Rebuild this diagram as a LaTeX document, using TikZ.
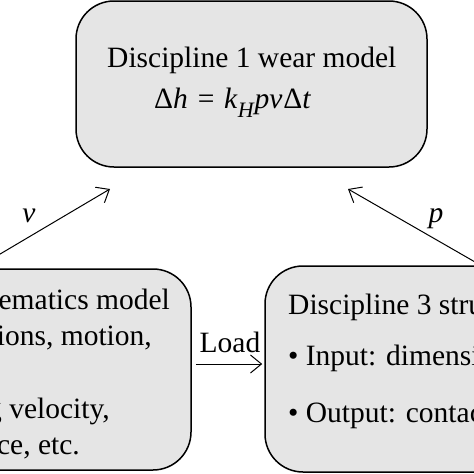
\documentclass[tikz,border=0pt]{standalone}
\usepackage{fontspec}
\setmainfont{Liberation Serif}
\usetikzlibrary{arrows.meta}
\definecolor{boxfill}{RGB}{229,229,229}
\tikzset{
  box/.style={draw=black, line width=1.5pt, fill=boxfill, rounded corners=38pt, inner sep=0pt},
  txt/.style={inner sep=0pt, font=\fontsize{29.5}{34}\selectfont},
  arr/.style={draw=black, line width=1pt, -{Straight Barb[length=11pt,width=18pt,line width=1pt]}},
}
\newcommand{\sub}[1]{\raisebox{-0.32em}{\fontsize{22}{24}\selectfont\itshape #1}}
\begin{document}
\begin{tikzpicture}[x=1pt,y=-1pt]
\path[use as bounding box] (0,0) rectangle (474,474);
\clip (0,0) rectangle (474,474);
% boxes
\node[box, minimum width=351pt, minimum height=166pt] (top) at (251.5,84) {};
\node[box, minimum width=351pt, minimum height=201pt] (left) at (15.5,369.5) {};
\node[box, minimum width=351pt, minimum height=206pt] (right) at (440.5,369) {};
% top text
\node[txt, anchor=base west] (t1) at (107,67) {Discipline 1 wear model};
\node[txt, anchor=base west] (t2) at (154,108) {Δ\textit{h}\,\,=\,\,\textit{k}\sub{H}\hspace{1pt}\textit{pv}\hspace{1pt}Δ\textit{t}};
% left text
\node[txt, anchor=base east] (l1) at (170,309) {Discipline 2 kinematics model};
\node[txt, anchor=base east] (l2) at (152,345) {• Input: positions, motion,};
\node[txt, anchor=base east] (l4) at (110,418) {• Output: sliding velocity,};
\node[txt, anchor=base east] (l5) at (80,454) {distance, etc.};
% right text
\node[txt, anchor=base west] (r1) at (288,314) {Discipline 3 structural model};
\node[txt, anchor=base west] (r2) at (288,365) {• Input: dimensions, load};
\node[txt, anchor=base west] (r3) at (288,422) {• Output: contact pressure};
% arrows
\coordinate (vs) at (-10,260);
\coordinate (ve) at (110,189);
\coordinate (ps) at (482,266);
\coordinate (pe) at (348,189);
\draw[arr] (vs) -- (ve);
\draw[arr] (ps) -- (pe);
\node[txt, anchor=base] (vl) at (29,222) {\textit{v}};
\node[txt, anchor=base] (pl) at (436,222) {\textit{p}};
\draw[arr] ([xshift=4pt]left.east |- 0,364) coordinate (ls) -- ([xshift=-2pt]right.west |- 0,364) coordinate (le);
\node[txt, anchor=base] (load) at (230,352) {Load};
\end{tikzpicture}
\end{document}
